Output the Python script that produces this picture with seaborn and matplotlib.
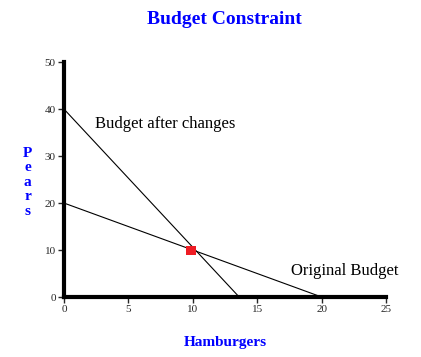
import matplotlib
matplotlib.use("Agg")
import matplotlib.pyplot as plt
import seaborn as sns
import pandas as pd

# budget lines (hamburgers, pears)
original_x = [0, 20]
original_y = [20, 0]
changed_x = [0, 13.6]
changed_y = [40, 0]
point_x = [9.85]
point_y = [9.9]

sns.set_style("white")
plt.rcParams['font.family'] = ['Liberation Serif', 'DejaVu Serif']

fig = plt.figure(figsize=(4.21, 3.57), dpi=100)
ax = fig.add_axes([0.152, 0.168, 0.765, 0.658])

sns.lineplot(x=original_x, y=original_y, ax=ax, color='black', linewidth=0.8)
sns.lineplot(x=changed_x, y=changed_y, ax=ax, color='black', linewidth=0.8)
sns.scatterplot(x=point_x, y=point_y, ax=ax, marker='s', color='#ee1c24', s=45,
                edgecolor='none', zorder=5)

ax.set_xlim(0, 25)
ax.set_ylim(0, 50)
ax.set_xticks([0, 5, 10, 15, 20, 25])
ax.set_yticks([0, 10, 20, 30, 40, 50])
ax.tick_params(direction='out', length=4, width=1, labelsize=8, pad=2,
               bottom=True, left=True)
sns.despine(ax=ax)
for s in ['left', 'bottom']:
    ax.spines[s].set_linewidth(3)
    ax.spines[s].set_color('black')

ax.text(2.4, 36, 'Budget after changes', fontsize=12, color='black')
ax.text(17.6, 4.6, 'Original Budget', fontsize=12, color='black')

fig.text(0.532, 0.945, 'Budget Constraint', ha='center', va='center',
         fontsize=14, fontweight='bold', color='#0000ff')
fig.text(0.535, 0.04, 'Hamburgers', ha='center', va='center',
         fontsize=11, fontweight='bold', color='#0000ff')
fig.text(0.066, 0.489, 'P\ne\na\nr\ns', ha='center', va='center',
         fontsize=11, fontweight='bold', color='#0000ff', linespacing=1.15)

fig.savefig('out.png', dpi=100)
